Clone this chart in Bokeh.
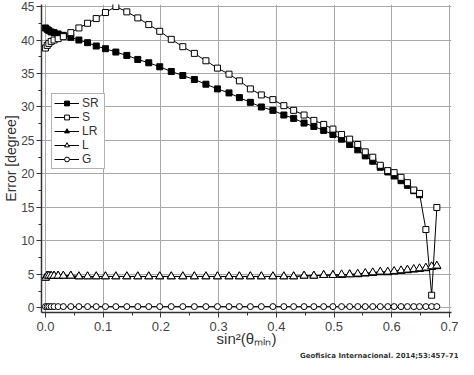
from bokeh.plotting import figure
from bokeh.models import (Range1d, SingleIntervalTicker, PrintfTickFormatter,
                          Legend, LegendItem, Title)
from bokeh.embed import file_html
from bokeh.resources import INLINE

# sin^2(theta_min) sample positions
x = [0.000, 0.003, 0.006, 0.010, 0.015, 0.022, 0.031, 0.044, 0.058, 0.073,
     0.088, 0.104, 0.122, 0.141, 0.160, 0.179, 0.198, 0.218, 0.238, 0.258,
     0.278, 0.298, 0.318, 0.336, 0.355, 0.374, 0.394, 0.413, 0.430, 0.448,
     0.465, 0.482, 0.498, 0.513, 0.527, 0.541, 0.554, 0.567, 0.580, 0.593,
     0.604, 0.616, 0.627, 0.638, 0.648, 0.659, 0.669, 0.678]

sr = [41.8, 41.6, 41.4, 41.2, 41.1, 40.9, 40.7, 40.4, 40.0, 39.6,
      39.1, 38.7, 38.2, 37.7, 37.1, 36.6, 36.0, 35.3, 34.7, 34.1,
      33.4, 32.7, 32.1, 31.4, 30.7, 30.0, 29.5, 28.8, 28.3, 27.6,
      27.1, 26.5, 25.9, 25.2, 24.4, 23.6, 22.7, 21.9, 21.0, 20.3,
      19.7, 19.0, 18.3, 17.5, 16.9]

s = [38.8, 39.2, 39.5, 39.8, 40.0, 40.2, 40.5, 41.1, 41.8, 42.5,
     43.2, 44.1, 45.0, 44.2, 43.3, 42.3, 41.3, 40.1, 39.0, 38.0,
     36.9, 35.8, 34.9, 33.9, 32.7, 31.8, 31.1, 30.2, 29.5, 28.8,
     28.0, 27.4, 26.7, 25.9, 25.2, 24.4, 23.3, 22.5, 21.3, 20.5,
     20.2, 19.5, 18.7, 17.6, 17.1, 11.7, 1.9, 15.0]

lr = [4.5, 4.8, 4.8, 4.8, 4.8, 4.8, 4.8, 4.8, 4.7, 4.7,
      4.7, 4.7, 4.7, 4.7, 4.7, 4.7, 4.7, 4.7, 4.7, 4.7,
      4.7, 4.7, 4.7, 4.7, 4.7, 4.7, 4.7, 4.7, 4.7, 4.8,
      4.8, 4.9, 4.9, 4.9, 5.0, 5.0, 5.1, 5.2, 5.3, 5.3,
      5.4, 5.5, 5.6, 5.7, 5.8, 5.9, 6.1, 6.2]

l = [4.5, 4.8, 4.8, 4.8, 4.8, 4.8, 4.8, 4.8, 4.7, 4.7,
     4.7, 4.7, 4.7, 4.7, 4.7, 4.7, 4.7, 4.7, 4.7, 4.7,
     4.7, 4.7, 4.7, 4.7, 4.7, 4.7, 4.7, 4.7, 4.7, 4.8,
     4.8, 4.9, 4.9, 5.0, 5.0, 5.1, 5.2, 5.3, 5.4, 5.4,
     5.5, 5.6, 5.7, 5.8, 5.9, 6.0, 6.2, 6.3]

g = [0.2, 0.2, 0.2, 0.2, 0.2, 0.2, 0.2, 0.2, 0.2, 0.2,
     0.2, 0.2, 0.2, 0.2, 0.2, 0.2, 0.2, 0.2, 0.2, 0.2,
     0.2, 0.2, 0.2, 0.2, 0.2, 0.2, 0.2, 0.2, 0.2, 0.2,
     0.2, 0.2, 0.2, 0.2, 0.2, 0.2, 0.2, 0.2, 0.2, 0.2,
     0.2, 0.2, 0.2, 0.2, 0.2, 0.2, 0.2, 0.2]

FONT = "Liberation Sans"
DARK = "#333333"

p = figure(width=458, height=359, output_backend="svg", toolbar_location=None,
           x_range=Range1d(-0.0068, 0.7034), y_range=Range1d(-0.68, 45.3),
           min_border_left=0, min_border_right=7, min_border_top=4,
           min_border_bottom=0, background_fill_color="white",
           border_fill_color="white")
p.outline_line_color = None

p.xaxis.ticker = SingleIntervalTicker(interval=0.1, num_minor_ticks=2)
p.yaxis.ticker = SingleIntervalTicker(interval=5, num_minor_ticks=2)
p.xaxis.formatter = PrintfTickFormatter(format="%.1f")
p.xgrid.ticker = SingleIntervalTicker(interval=0.1)
p.ygrid.ticker = SingleIntervalTicker(interval=5)
p.grid.grid_line_color = "#a8a8a8"
p.grid.grid_line_width = 1

for ax in (p.xaxis, p.yaxis):
    ax.axis_line_color = DARK
    ax.axis_line_width = 1.5
    ax.major_tick_line_color = DARK
    ax.minor_tick_line_color = DARK
    ax.major_tick_out = 5
    ax.major_tick_in = 0
    ax.minor_tick_out = 3
    ax.minor_tick_in = 0
    ax.major_label_text_font = FONT
    ax.major_label_text_color = "#444444"
    ax.axis_label_text_font = FONT
    ax.axis_label_text_font_style = "normal"
    ax.axis_label_text_color = DARK
p.xaxis.major_label_text_font_size = "13px"
p.yaxis.major_label_text_font_size = "12px"
p.xaxis.major_label_standoff = 4
p.yaxis.major_label_standoff = 2

p.yaxis.axis_label = "Error [degree]"
p.yaxis.axis_label_text_font_size = "14px"
p.yaxis.axis_label_standoff = -1
p.xaxis.axis_label = "sin\u00b2(\u03b8\u2098\u1d62\u2099)"
p.xaxis.axis_label_text_font_size = "15px"
p.xaxis.axis_label_standoff = -4

def series(xs, ys, marker, fill, size):
    ln = p.line(xs, ys, line_color="black", line_width=1)
    sc = p.scatter(xs, ys, marker=marker, size=size, line_color="black",
                   line_width=1, fill_color=fill)
    return [ln, sc]

r_sr = series(x[:len(sr)], sr, "square", "black", 6)
r_s = series(x, s, "square", "white", 6)
r_lr = series(x, lr, "triangle", "black", 8)
r_l = series(x, l, "triangle", "white", 8)
r_g = series(x, g, "circle", "white", 6)

legend = Legend(items=[LegendItem(label="SR", renderers=r_sr),
                       LegendItem(label="S", renderers=r_s),
                       LegendItem(label="LR", renderers=r_lr),
                       LegendItem(label="L", renderers=r_l),
                       LegendItem(label="G", renderers=r_g)],
                location=(10, 143), glyph_width=25, glyph_height=12,
                label_height=12, spacing=0, padding=2, margin=0,
                label_standoff=3, label_text_font=FONT,
                label_text_font_size="12px", label_text_color=DARK,
                border_line_color="#666666", border_line_width=1,
                background_fill_color="white", background_fill_alpha=1)
p.add_layout(legend, "center")

footer = Title(text="Geofisica Internacional. 2014;53:457\u201371",
               align="right", text_font="DejaVu Sans", text_font_size="7px",
               text_font_style="bold", text_color=DARK, standoff=0, offset=-7)
p.add_layout(footer, "below")

open("out.html", "w").write(file_html(p, INLINE))
